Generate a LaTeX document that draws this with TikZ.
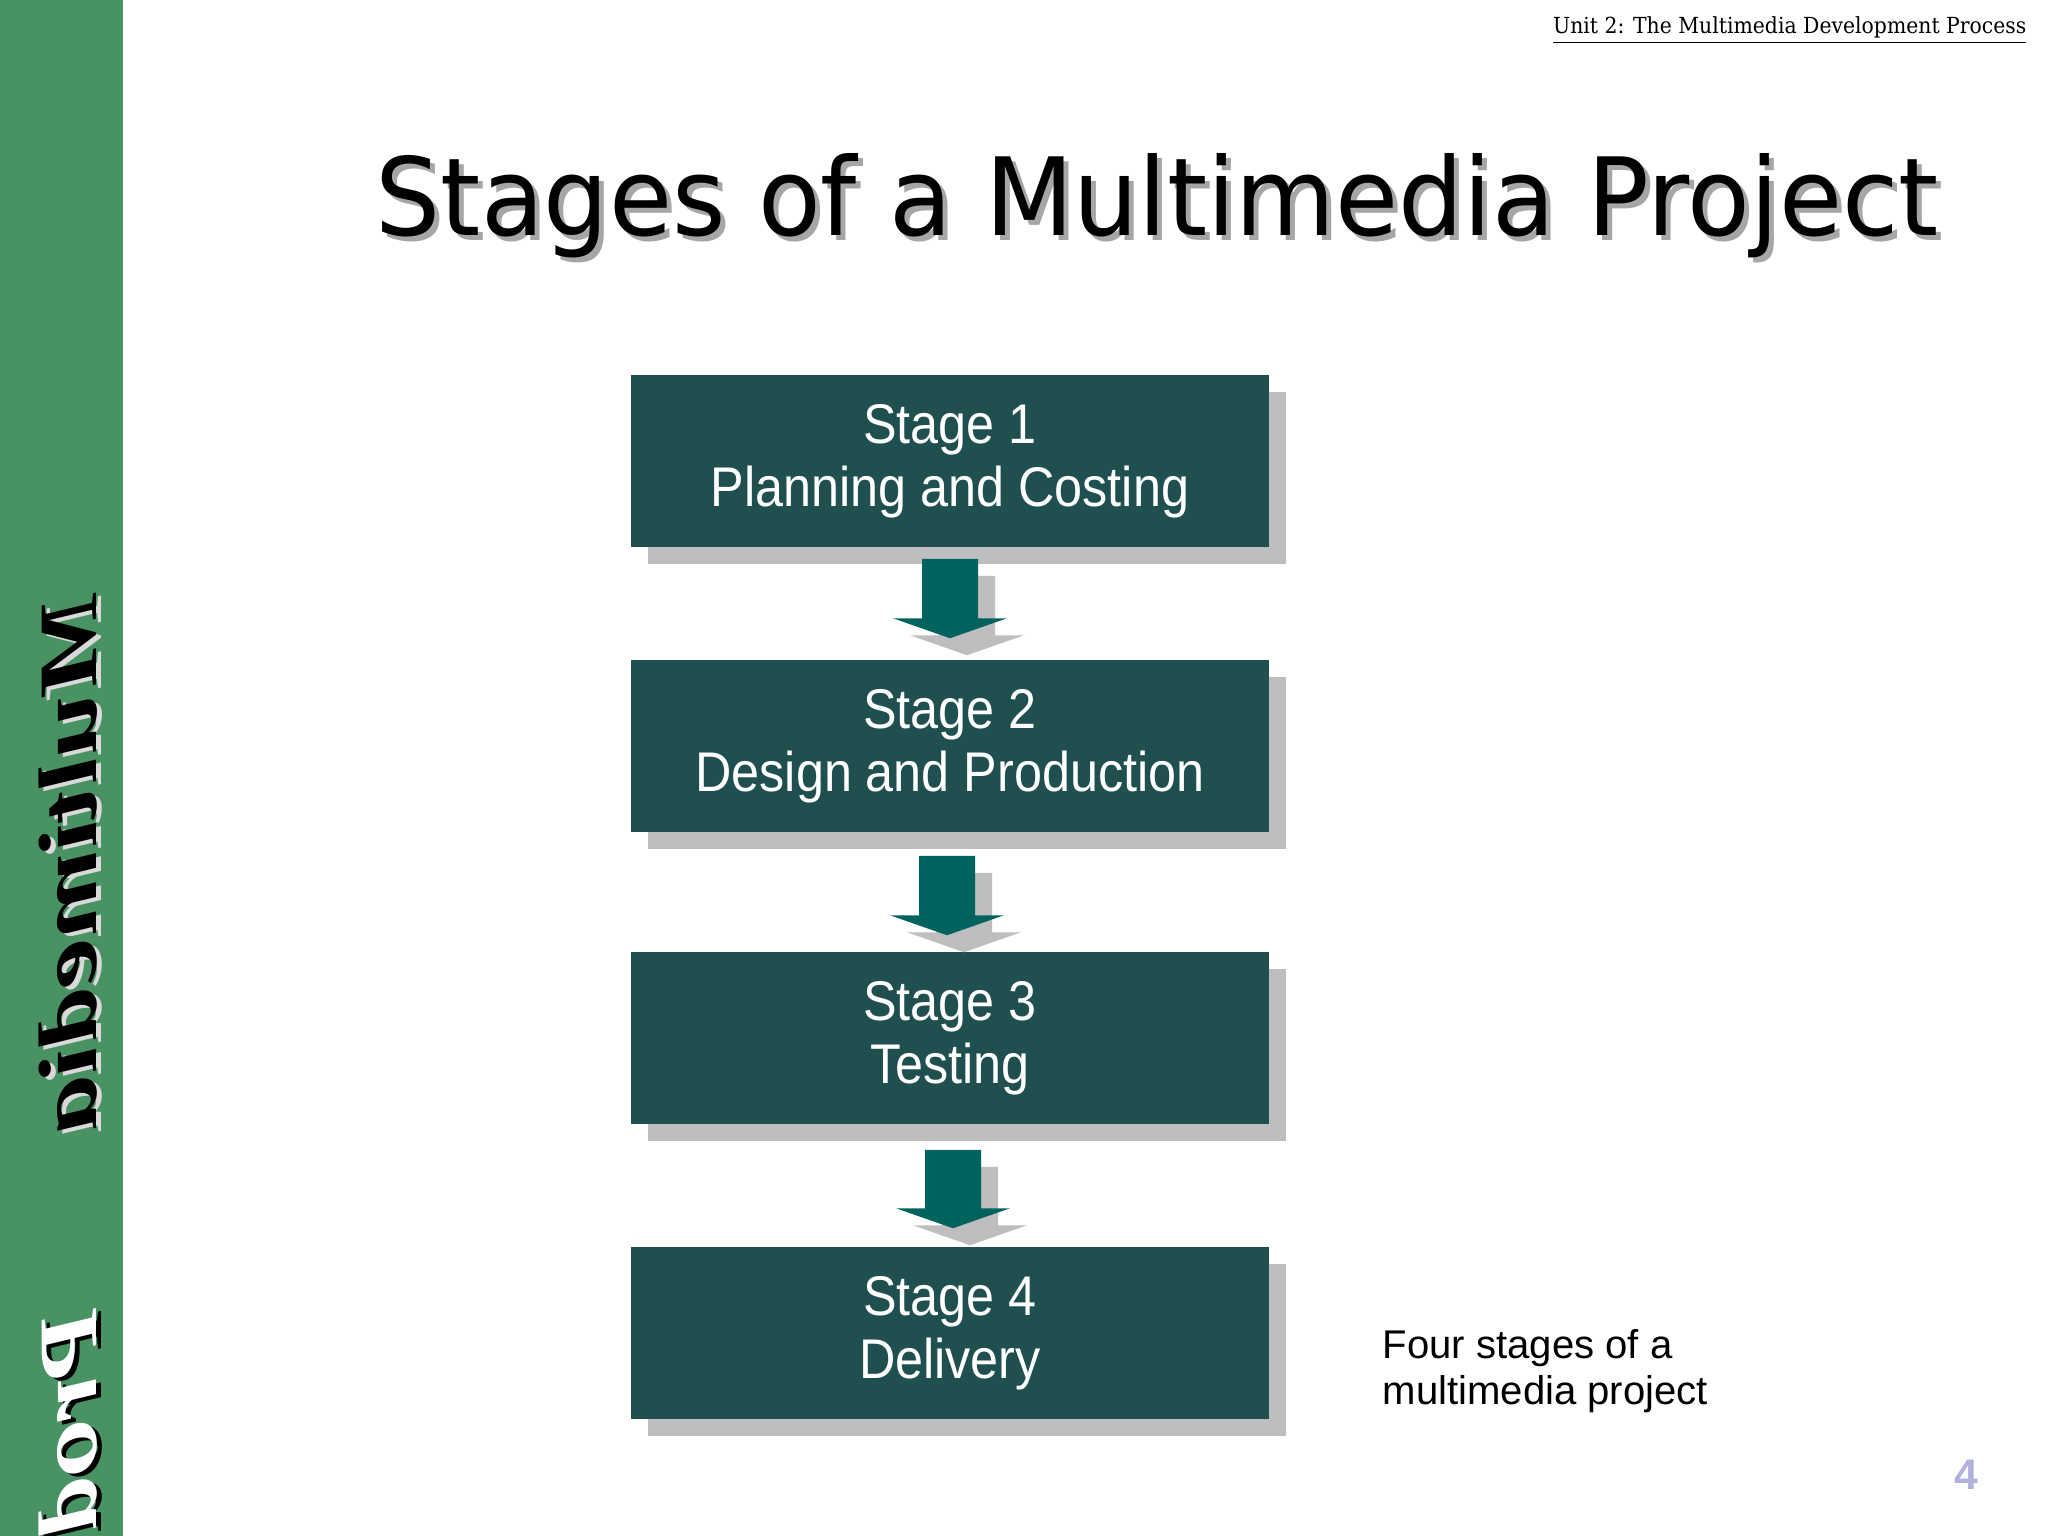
\documentclass[tikz,border=0pt]{standalone}
\usepackage{fontspec}
\usepackage{xcolor}
\usepackage{tikz}
\usetikzlibrary{calc,shadows}
\setmainfont{Liberation Sans}
\newfontfamily\boxfont[FakeStretch=0.9]{Liberation Sans}
\newfontfamily\titlefont[FakeStretch=0.95]{DejaVu Sans}
\newfontfamily\headfont[FakeStretch=0.92]{DejaVu Serif}
\newfontfamily\sidefont[FakeStretch=1.36]{Liberation Serif}
\definecolor{sidegreen}{RGB}{72,146,100}
\definecolor{boxgreen}{RGB}{31,79,79}
\definecolor{arrowteal}{RGB}{0,99,94}
\definecolor{shadegray}{RGB}{190,190,192}
\definecolor{pagelilac}{RGB}{178,178,222}
\tikzset{
  stagebox/.style={fill=boxgreen, text=white, minimum width=6.38cm, minimum height=1.72cm,
    inner sep=0, align=center, font=\boxfont\fontsize{15.9}{17.9}\selectfont,
    drop shadow={shadow xshift=0.17cm, shadow yshift=-0.17cm, fill=shadegray, opacity=1}},
  sidetext/.style={rotate=-90, yscale=-1, anchor=base west, inner sep=0,
    font=\sidefont\bfseries\itshape\fontsize{23.6}{28}\selectfont}
}
\begin{document}
\begin{tikzpicture}[x=0.01cm, y=-0.01cm]
\useasboundingbox (0,0) rectangle (2048,1536);
\clip (0,0) rectangle (2048,1536);
\fill[white] (0,0) rectangle (2048,1536);
\fill[sidegreen] (0,0) rectangle (123,1536);

\node[sidetext, text=black!15] (mmshade) at (101,597) {Multimedia};
\node[sidetext, text=black] (mm) at (97,594) {Multimedia};
\node[sidetext, text=black] (prodshade) at (101,1311) {Production};
\node[sidetext, text=white] (prod) at (97,1308) {Production};

\node[anchor=base east, inner sep=0, font=\headfont\fontsize{6.3}{7}\selectfont] (unit) at (2027,33)
  {\underline{Unit 2: The Multimedia Development Process}};

\node[anchor=base west, inner sep=0, text=black!35, font=\titlefont\fontsize{30.7}{36}\selectfont] (titleshade) at (380,240)
  {Stages of a Multimedia Project};
\node[anchor=base west, inner sep=0, text=black, font=\titlefont\fontsize{30.7}{36}\selectfont] (title) at (375,235)
  {Stages of a Multimedia Project};

\node[stagebox] (s1) at (950,461) {Stage 1\\Planning and Costing};
\node[stagebox] (s2) at (950,746) {Stage 2\\Design and Production};
\node[stagebox] (s3) at (950,1038) {Stage 3\\Testing};
\node[stagebox] (s4) at (950,1333) {Stage 4\\Delivery};

\foreach \sa/\sb/\dx/\gt/\gb in {s1/s2/0/11/21, s2/s3/-3/23/16, s3/s4/3/25/18} {
  \coordinate (top) at ($(\sa.south)+(\dx,\gt)$);
  \coordinate (tip) at ($(\sb.north)+(\dx,-\gb)$);
  \coordinate (base) at ($(tip)+(0,-20)$);
  \foreach \o/\c in {17/shadegray, 0/arrowteal}
    \fill[\c] ($(top)+(-28+\o,\o)$) -- ($(top)+(28+\o,\o)$) -- ($(base)+(28+\o,\o)$) -- ($(base)+(57+\o,\o)$)
      -- ($(tip)+(\o,\o)$) -- ($(base)+(-57+\o,\o)$) -- ($(base)+(-28+\o,\o)$) -- cycle;
}

\node[anchor=north west, inner sep=0, align=left, font=\fontsize{11.4}{13.1}\selectfont] (caption) at (1382,1329)
  {Four stages of a\\multimedia project};
\node[anchor=base, inner sep=0, text=pagelilac, font=\bfseries\fontsize{12.2}{14}\selectfont] (pagenum) at (1966,1489) {4};
\end{tikzpicture}
\end{document}
